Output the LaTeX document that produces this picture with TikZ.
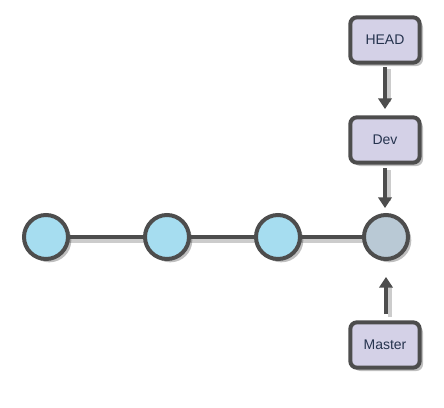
\documentclass[tikz,border=0pt]{standalone}
\usepackage{fontspec}
\setmainfont{Liberation Sans}
\usetikzlibrary{shadows,arrows.meta}
\definecolor{edge}{HTML}{4D4D4D}
\definecolor{commitfill}{HTML}{A6DDF0}
\definecolor{headfill}{HTML}{B9C9D5}
\definecolor{boxfill}{HTML}{D4D1E7}
\definecolor{txt}{HTML}{26344F}
\begin{document}
\begin{tikzpicture}[x=0.75pt,y=-0.75pt,
  shd/.style={drop shadow={shadow xshift=2.5pt,shadow yshift=-2.5pt,fill=black,opacity=0.25}},
  commit/.style={circle,draw=edge,line width=3pt,fill=commitfill,minimum size=33pt,inner sep=0pt,shd},
  ref/.style={rectangle,rounded corners=5pt,draw=edge,line width=3pt,fill=boxfill,minimum width=52pt,minimum height=34pt,inner sep=0pt,text=txt,font=\fontsize{10.5pt}{12pt}\selectfont,shd},
  link/.style={draw=edge,line width=2.8pt},
  arr/.style={draw=edge,line width=2.8pt,-{Triangle[width=10pt,length=8pt]}}]
\useasboundingbox (0,0) rectangle (444,408);
\draw[black,opacity=0.2,line width=2.8pt] (48,241) -- (388,241);
\node[commit] (c1) at (46,237) {};
\node[commit] (c2) at (167,237) {};
\node[commit] (c3) at (278,237) {};
\node[commit,fill=headfill] (c4) at (386,237) {};
\draw[link] (c1) -- (c2);
\draw[link] (c2) -- (c3);
\draw[link] (c3) -- (c4);
\node[ref] (head) at (385,40) {HEAD};
\node[ref] (dev) at (385,140) {Dev};
\node[ref] (master) at (385,345) {Master};
\coordinate (h1) at (385,67);
\coordinate (h2) at (385,109);
\coordinate (d1) at (385,168);
\coordinate (d2) at (385,208);
\coordinate (m1) at (386,314);
\coordinate (m2) at (386,277);
\draw[black,opacity=0.2,line width=2.8pt] (389,69) -- (389,102);
\draw[black,opacity=0.2,line width=2.8pt] (389,170) -- (389,201);
\draw[black,opacity=0.2,line width=2.8pt] (390,317) -- (390,285);
\draw[arr] (h1) -- (h2);
\draw[arr] (d1) -- (d2);
\draw[arr] (m1) -- (m2);
\end{tikzpicture}
\end{document}
